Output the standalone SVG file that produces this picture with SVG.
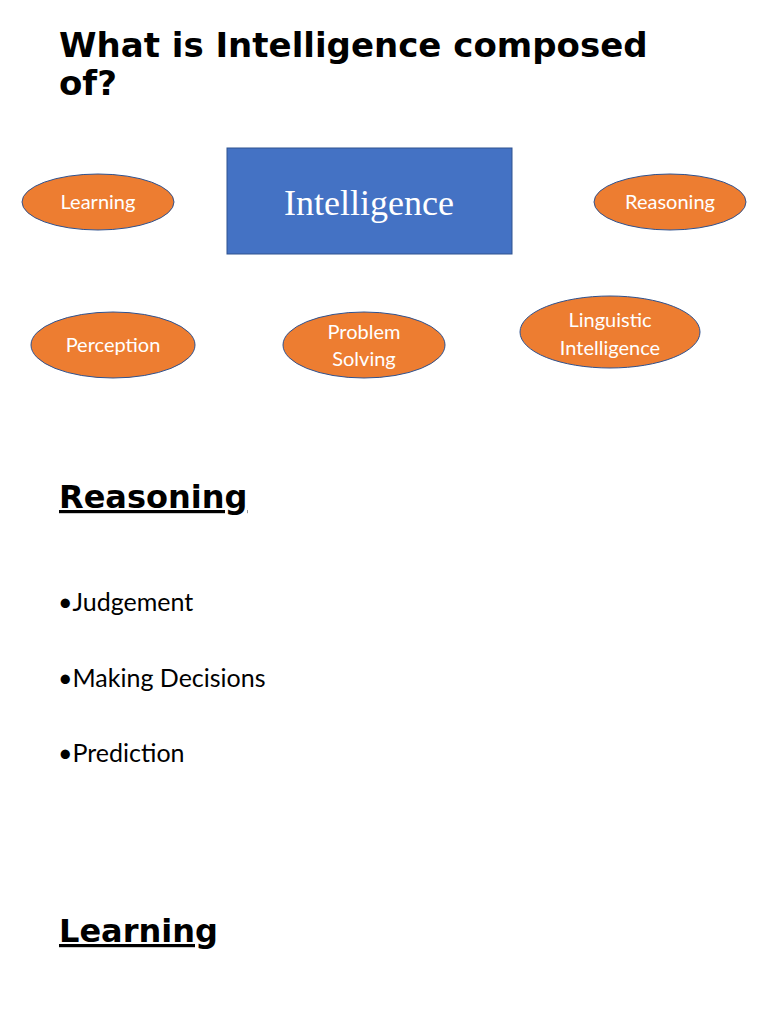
<svg xmlns="http://www.w3.org/2000/svg" width="768" height="1024" viewBox="0 0 768 1024">
<style>
.h{font-family:"DejaVu Sans",sans-serif;font-weight:bold;fill:#000}
.o{fill:#ED7D31;stroke:#2F528F;stroke-width:1}
.ot{font-family:Lato,"Liberation Sans",sans-serif;font-size:20px;fill:#fff;text-anchor:middle}
.b{font-family:Lato,"Liberation Sans",sans-serif;font-size:25px;fill:#000}
</style>
<rect width="768" height="1024" fill="#fff"/>
<text class="h" x="59" y="57" font-size="34">What is Intelligence composed</text>
<text class="h" x="59" y="95" font-size="34">of?</text>
<g id="intelligence"><rect x="227" y="148" width="285" height="106" fill="#4472C4" stroke="#2F528F"/>
<text x="369" y="215" font-family="Liberation Serif,serif" font-size="36" fill="#fff" text-anchor="middle">Intelligence</text></g>
<g id="learning"><ellipse class="o" cx="98" cy="202" rx="76" ry="28"/><text class="ot" x="98" y="209">Learning</text></g>
<g id="reasoning"><ellipse class="o" cx="670" cy="202" rx="76" ry="28"/><text class="ot" x="670" y="209">Reasoning</text></g>
<g id="perception"><ellipse class="o" cx="113" cy="345" rx="82" ry="33"/><text class="ot" x="113" y="352">Perception</text></g>
<g id="problem"><ellipse class="o" cx="364" cy="345" rx="81" ry="33"/><text class="ot" x="364" y="339">Problem</text><text class="ot" x="364" y="366">Solving</text></g>
<g id="linguistic"><ellipse class="o" cx="610" cy="332" rx="90" ry="36"/><text class="ot" x="610" y="327">Linguistic</text><text class="ot" x="610" y="355">Intelligence</text></g>
<g id="connectors"/>
<text class="h" x="59" y="508" font-size="32" text-decoration="underline">Reasoning</text>
<text class="b" x="58" y="611">•Judgement</text>
<text class="b" x="58" y="687">•Making Decisions</text>
<text class="b" x="58" y="762">•Prediction</text>
<text class="h" x="59" y="942" font-size="32" text-decoration="underline">Learning</text>
</svg>
